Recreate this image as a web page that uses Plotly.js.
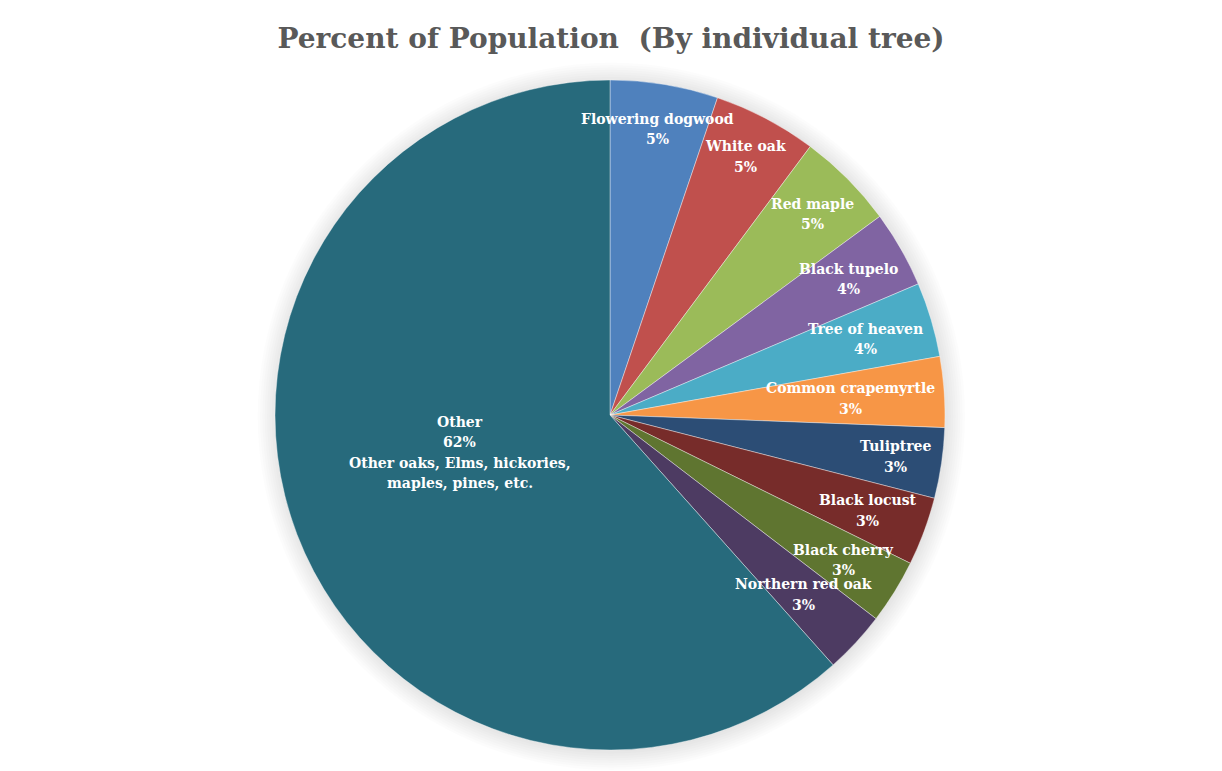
<!DOCTYPE html>
<html>
<head>
<meta charset="utf-8">
<script src="https://cdn.plot.ly/plotly-3.0.1.min.js"></script>
<style>
  html, body { margin: 0; padding: 0; background: #fff; }
  #chart { width: 1222px; height: 771px; }
</style>
</head>
<body>
<div id="chart"></div>
<script>
// tree species share (clockwise from 12 o'clock)
const species = ['Flowering dogwood', 'White oak', 'Red maple', 'Black tupelo', 'Tree of heaven',
                 'Common crapemyrtle', 'Tuliptree', 'Black locust', 'Black cherry', 'Northern red oak', 'Other'];
const share = [5.2, 5.0, 4.7, 3.7, 3.6, 3.4, 3.4, 3.3, 3.1, 3.0, 61.6];
const notes = [[], [], [], [], [], [], [], [], [], [], ['Other oaks, Elms, hickories,', 'maples, pines, etc.']];
const colors = ['#4F81BD', '#C0504D', '#9BBB59', '#8064A2', '#4BACC6', '#F79646',
                '#2C4D75', '#772C2A', '#5F7530', '#4D3B62', '#276A7C'];

const serif = '"DejaVu Serif", "Liberation Serif", serif';
const lineGap = 20.5;
const radiusPx = 335;   // plot area is 670px square

const trace = {
    type: 'pie',
    labels: species,
    values: share,
    sort: false,
    direction: 'clockwise',
    rotation: 0,
    marker: { colors: colors, line: { color: '#ffffff', width: 0.4 } },
    textinfo: 'none',
    hoverinfo: 'none',
    showlegend: false
};

// measure label width so it can be pushed out as far as it fits
const ctx = document.createElement('canvas').getContext('2d');
ctx.font = 'bold 14px ' + serif;
const textW = s => ctx.measureText(s).width;

function fitRadius(theta, w, h) {
    const sx = Math.abs(Math.sin(theta)), cy = Math.abs(Math.cos(theta));
    let r = 0.88 * radiusPx;
    while (r > 0) {
        const px = r * sx + w / 2, py = r * cy + h / 2;
        if (Math.hypot(px, py) <= radiusPx - 8) break;
        r -= 1;
    }
    return r;
}

// data labels on each slice's mid angle, like the "best fit" labels
const total = share.reduce((a, b) => a + b, 0);
const annotations = [];
let cum = 0;
share.forEach((v, i) => {
    const mid = (cum + v / 2) / total * 2 * Math.PI;
    cum += v;
    const big = v / total > 0.5;
    const lines = [species[i], Math.round(v / total * 100) + '%'].concat(notes[i]);
    const w = Math.max(...lines.map(textW));
    const h = lines.length * lineGap - 8;
    const r = big ? 0.48 * radiusPx : fitRadius(mid, w, h);
    const x = 0.5 + 0.5 * (r / radiusPx) * Math.sin(mid);
    const y = 0.5 + 0.5 * (r / radiusPx) * Math.cos(mid);
    const lift = big ? 20 : 0;
    lines.forEach((t, k) => {
        annotations.push({
            xref: 'paper', yref: 'paper', x: x, y: y,
            xanchor: 'center', yanchor: 'middle',
            yshift: ((lines.length - 1) / 2 - k) * lineGap + lift,
            text: '<b>' + t + '</b>',
            showarrow: false,
            font: { family: serif, size: 14, color: '#ffffff' }
        });
    });
});

// soft shadow round the pie
const shapes = [];
for (let g = 0.028; g > 0; g -= 0.0035) {
    shapes.push({
        type: 'circle', xref: 'paper', yref: 'paper', layer: 'below',
        x0: -g + 0.002, x1: 1 + g + 0.002, y0: -g - 0.002, y1: 1 + g - 0.002,
        line: { width: 0 }, fillcolor: 'rgba(0,0,0,0.012)'
    });
}

const layout = {
    width: 1222,
    height: 771,
    title: {
        text: '<b>Percent of Population  (By individual tree)</b>',
        font: { family: serif, size: 28, color: '#595959' },
        x: 0.5, xanchor: 'center',
        y: 0.951, yanchor: 'middle'
    },
    margin: { t: 80, b: 21, l: 275, r: 277 },
    paper_bgcolor: '#ffffff',
    annotations: annotations,
    shapes: shapes
};

Plotly.newPlot('chart', [trace], layout, { displayModeBar: false, staticPlot: true });
</script>
</body>
</html>
